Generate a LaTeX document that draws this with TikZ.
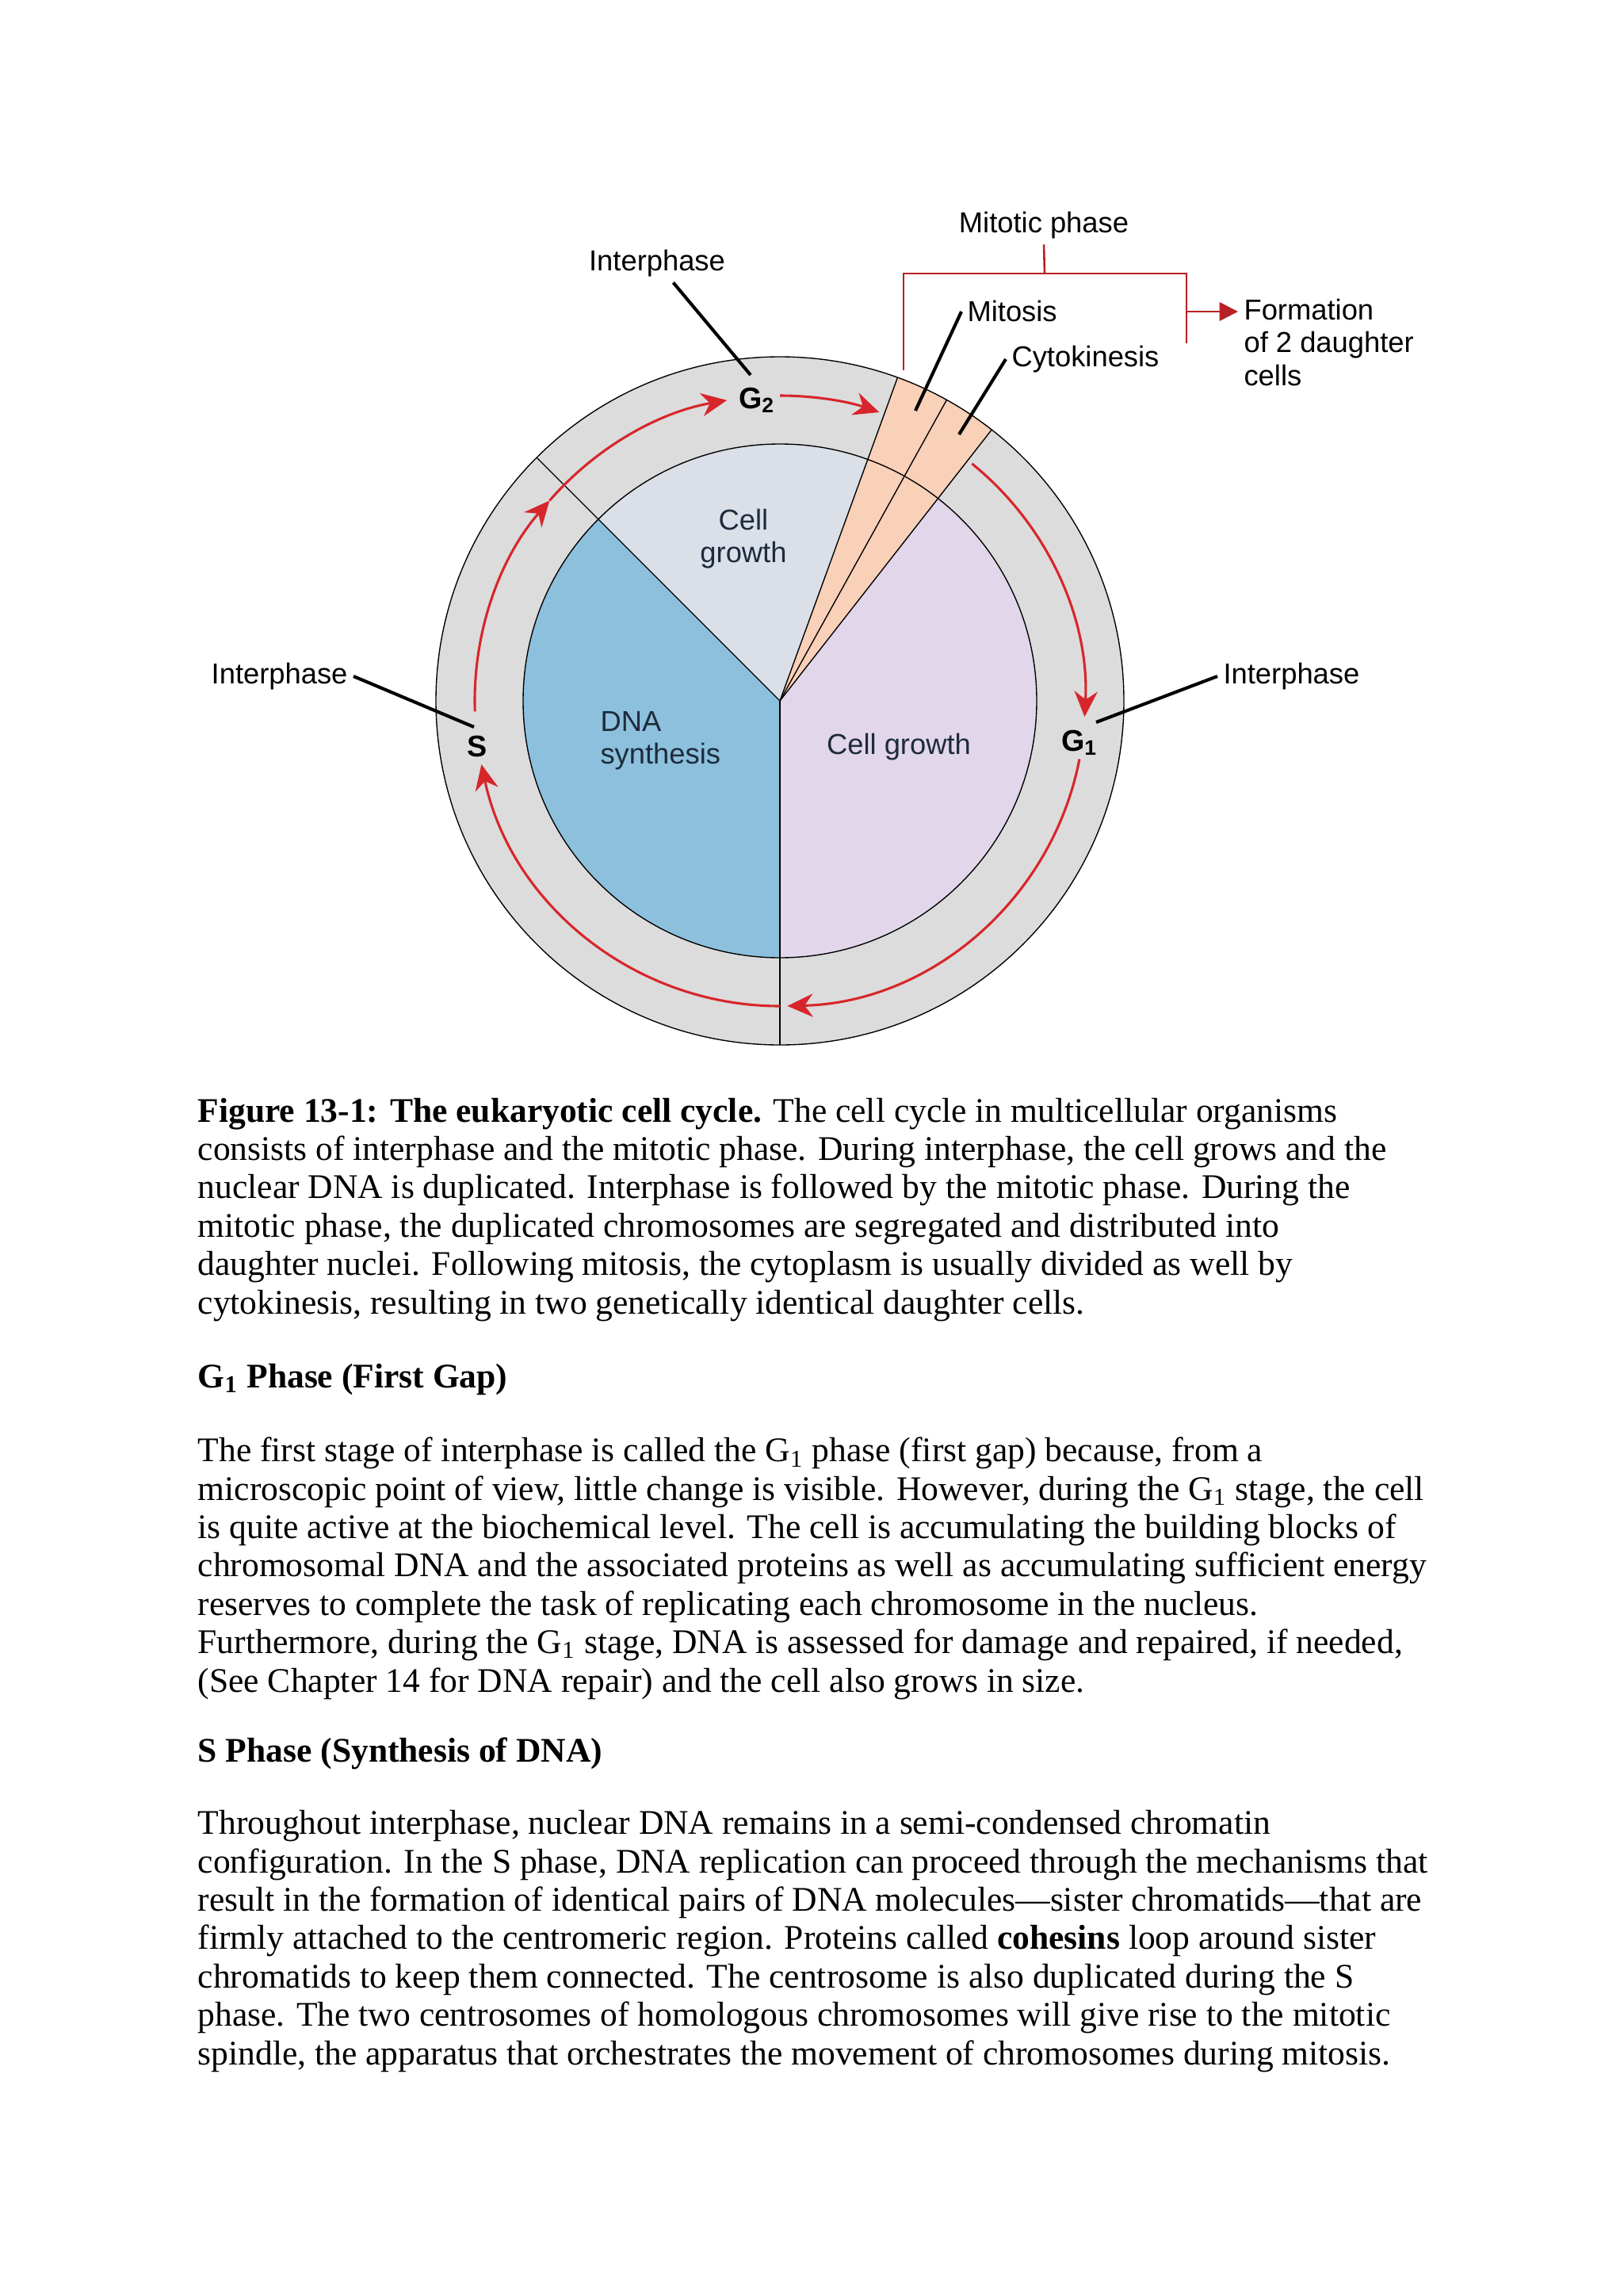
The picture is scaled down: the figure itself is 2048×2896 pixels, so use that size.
\documentclass[tikz,border=0pt]{standalone}
\usepackage{fontspec}
\setmainfont{Liberation Serif}
\newfontfamily\labelfont{Liberation Sans}
\usetikzlibrary{arrows.meta, positioning, calc}
\definecolor{ringGray}{HTML}{DCDCDC}
\definecolor{dnaBlue}{HTML}{8CC0DD}
\definecolor{gtwoGray}{HTML}{DADFE8}
\definecolor{goneLilac}{HTML}{E2D6EA}
\definecolor{mitoOrange}{HTML}{F9D0B8}
\definecolor{cycleRed}{HTML}{D7262B}
\definecolor{inkNavy}{HTML}{1E2B3C}

\begin{document}
\begin{tikzpicture}[
x=0.1025mm, y=0.1025mm,
tag/.style={
font=\labelfont\fontsize{10.6}{12}\selectfont,
inner sep=2pt,
align=left
},
inside/.style={tag, text=inkNavy},
phase/.style={font=\labelfont\bfseries\fontsize{11}{13}\selectfont, inner sep=1pt},
leader/.style={line width=1.2pt, black},
edge/.style={line width=0.4pt, black},
cyc/.style={line width=0.9pt, cycleRed, -{Stealth[length=3.3mm, width=3mm]}},
bracket/.style={line width=0.75pt, cycleRed!85!black},
para/.style={anchor=base west, inner sep=0pt, align=left, font=\fontsize{12.7}{14.1}\selectfont}
]

\useasboundingbox (0,0) rectangle (2048,-2896);
\fill[white] (0,0) rectangle (2048,-2896);

\coordinate (c) at (984,-884);

% ring and sectors
\fill[ringGray] (c) circle[radius=434];
\fill[dnaBlue] (c) -- ++(135:324) arc[start angle=135, end angle=270, radius=324] -- cycle;
\fill[gtwoGray] (c) -- ++(70:324) arc[start angle=70, end angle=135, radius=324] -- cycle;
\fill[goneLilac] (c) -- ++(-90:324) arc[start angle=-90, end angle=52, radius=324] -- cycle;
\fill[mitoOrange] (c) -- ++(52:434) arc[start angle=52, end angle=70, radius=434] -- cycle;

\draw[edge] (c) circle[radius=324];
\draw[edge] (c) circle[radius=434];
\foreach \a in {52,61,70,135,270}
  \draw[edge] (c) -- ++(\a:434);

% cycle arrows
\draw[cyc] ([shift={(182:385)}]c) arc[start angle=182, end angle=139, radius=385];
\draw[cyc] ([shift={(139:385)}]c) arc[start angle=139, end angle=100, radius=385];
\draw[cyc] ([shift={(90:385)}]c) arc[start angle=90, end angle=71, radius=385];
\draw[cyc] ([shift={(51:385)}]c) arc[start angle=51, end angle=-3, radius=385];
\draw[cyc] ([shift={(-11:385)}]c) arc[start angle=-11, end angle=-88.6, radius=385];
\draw[cyc] ([shift={(-90:385)}]c) arc[start angle=-90, end angle=-168, radius=385];

% phase letters
\node[phase] (gtwo) at (955,-505) {G\textsubscript{2}};
\node[phase] (gone) at (1362,-937) {G\textsubscript{1}};
\node[phase] (sph) at (602,-942) {S};

% texts inside the circle
\node[inside, align=center] (topgrowth) at (938,-680) {Cell\\growth};
\node[inside, anchor=west] (dnatext) at (750,-934) {DNA\\synthesis};
\node[inside] (rightgrowth) at (1134,-942) {Cell growth};

% interphase labels
\coordinate (gtwo-pin) at (947,-473);
\coordinate (s-pin) at (598,-917);
\coordinate (gone-pin) at (1383,-911);
\node[tag] (intertop) at (829,-332) {Interphase};
\node[tag, anchor=east] (interleft) at (446,-853) {Interphase};
\node[tag, anchor=west] (interright) at (1536,-853) {Interphase};
\draw[leader] (intertop) -- (gtwo-pin);
\draw[leader] (interleft.east) -- (s-pin);
\draw[leader] (interright.west) -- (gone-pin);

% mitotic phase
\coordinate (mito-pin) at (1155,-518);
\coordinate (cyto-pin) at (1210,-548);
\node[tag, anchor=west] (mitosis) at (1213,-393) {Mitosis};
\node[tag, anchor=west] (cyto) at (1269,-453) {Cytokinesis};
\draw[leader] (mitosis.west) -- (mito-pin);
\draw[leader] (cyto.west) -- (cyto-pin);

\node[tag] (mitotic) at (1317,-284) {Mitotic phase};
\node[tag, anchor=west] (formation) at (1562,-432) {Formation\\of 2 daughter\\cells};
\coordinate (brk-top) at (1318,-345);
\coordinate (brk-l) at (1140,-467);
\coordinate (brk-r) at (1497,-433);
\coordinate (brk-arr) at (1497,-393);
\draw[bracket] (mitotic.south) -- (brk-top);
\draw[bracket] (brk-l) |- (brk-r |- brk-top) -- (brk-r);
\draw[bracket, -{Triangle[length=2.4mm, width=2.4mm]}] (brk-arr) -- (brk-arr -| formation.west);

% text below the figure (base = last line)
\node[para] (caption) at (249,-1657) {\textbf{Figure 13-1: The eukaryotic cell cycle.} The cell cycle in multicellular organisms\\
consists of interphase and the mitotic phase. During interphase, the cell grows and the\\
nuclear DNA is duplicated. Interphase is followed by the mitotic phase. During the\\
mitotic phase, the duplicated chromosomes are segregated and distributed into\\
daughter nuclei. Following mitosis, the cytoplasm is usually divided as well by\\
cytokinesis, resulting in two genetically identical daughter cells.};

\node[para] (gonehead) at (249,-1750) {\textbf{G\textsubscript{1} Phase (First Gap)}};

\node[para] (gonetext) at (249,-2134) {The first stage of interphase is called the G\textsubscript{1} phase (first gap) because, from a\\
microscopic point of view, little change is visible. However, during the G\textsubscript{1} stage, the cell\\
is quite active at the biochemical level. The cell is accumulating the building blocks of\\
chromosomal DNA and the associated proteins as well as accumulating sufficient energy\\
reserves to complete the task of replicating each chromosome in the nucleus.\\
Furthermore, during the G\textsubscript{1} stage, DNA is assessed for damage and repaired, if needed,\\
(See Chapter 14 for DNA repair) and the cell also grows in size.};

\node[para] (shead) at (249,-2222) {\textbf{S Phase (Synthesis of DNA)}};

\node[para] (stext) at (249,-2604) {Throughout interphase, nuclear DNA remains in a semi-condensed chromatin\\
configuration. In the S phase, DNA replication can proceed through the mechanisms that\\
result in the formation of identical pairs of DNA molecules---sister chromatids---that are\\
firmly attached to the centromeric region. Proteins called \textbf{cohesins} loop around sister\\
chromatids to keep them connected. The centrosome is also duplicated during the S\\
phase. The two centrosomes of homologous chromosomes will give rise to the mitotic\\
spindle, the apparatus that orchestrates the movement of chromosomes during mitosis.};

\end{tikzpicture}
\end{document}
